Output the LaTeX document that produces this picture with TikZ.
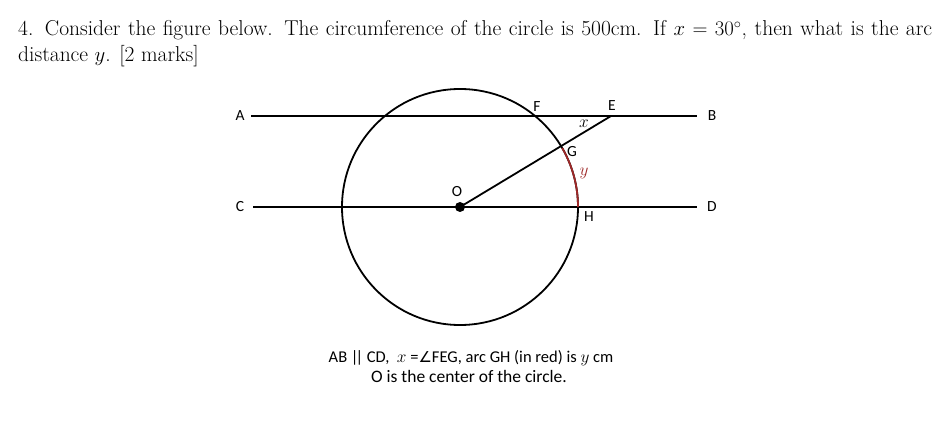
\documentclass[tikz,border=0pt]{standalone}
\usepackage{fontspec}
\newfontfamily\carl{Carlito}
\newfontfamily\dejavu{DejaVu Sans}
\definecolor{arcred}{RGB}{158,40,40}
\begin{document}
\begin{tikzpicture}[x=1pt,y=-1pt,
  geom/.style={line width=1.8pt},
  ptlabel/.style={font=\carl\fontsize{15.5}{17}\selectfont, inner sep=0pt},
  header/.style={font=\fontsize{21.5}{26}\selectfont, inner sep=0pt, anchor=base west},
  caption/.style={font=\carl\fontsize{16.5}{20}\selectfont, inner sep=0pt, anchor=base}]
\useasboundingbox (0,0) rectangle (944,438);
% header
\node[header] (h1) at (18,36) {\makebox[914pt][s]{4. Consider the figure below. The circumference of the circle is 500cm. If $x = 30^\circ$, then what is the arc}};
\node[header] (h2) at (18,62) {distance $y$. [2 marks]};
% points
\coordinate (O) at (460,207);
\coordinate (A) at (251,116);
\coordinate (B) at (697,116);
\coordinate (C) at (253,207);
\coordinate (D) at (697,207);
\path (O) ++(30:118pt) coordinate (G);
\path (O) ++(0:118pt) coordinate (H);
\path (O) ++(50.5:118pt) coordinate (F);
\coordinate (E) at (611,116);
% lines
\draw[geom] (A) -- (B);
\draw[geom] (C) -- (D);
\draw[geom] (O) circle[radius=118pt];
\draw[geom] (O) -- (E);
\draw[geom, arcred] (H) arc[start angle=0, end angle=30, radius=118pt];
\fill (O) circle[radius=5pt];
% labels
\node[ptlabel] (lA) at (240,116) {A};
\node[ptlabel] (lB) at (712,116) {B};
\node[ptlabel] (lC) at (240,207) {C};
\node[ptlabel] (lD) at (712,207) {D};
\node[ptlabel] (lO) at (457,192) {O};
\node[ptlabel] (lF) at (537,107) {F};
\node[ptlabel] (lE) at (612,106) {E};
\node[ptlabel] (lG) at (572,152) {G};
\node[ptlabel] (lH) at (589,217) {H};
\node[inner sep=0pt, font=\fontsize{18}{20}\selectfont] (lx) at (584,124) {$x$};
\node[inner sep=0pt, font=\fontsize{18}{20}\selectfont, text=arcred] (ly) at (584,173) {$y$};
% caption
\node[caption] (c1) at (471,362) {AB |\kern-3pt| CD,\ \ {\fontsize{18}{20}\selectfont$x$} ={\dejavu\fontsize{15}{18}\selectfont ∠}FEG, arc GH (in red) is {\fontsize{18}{20}\selectfont$y$} cm};
\node[caption, font=\carl\fontsize{17.5}{20}\selectfont] (c2) at (469,382) {O is the center of the circle.};
\end{tikzpicture}
\end{document}
